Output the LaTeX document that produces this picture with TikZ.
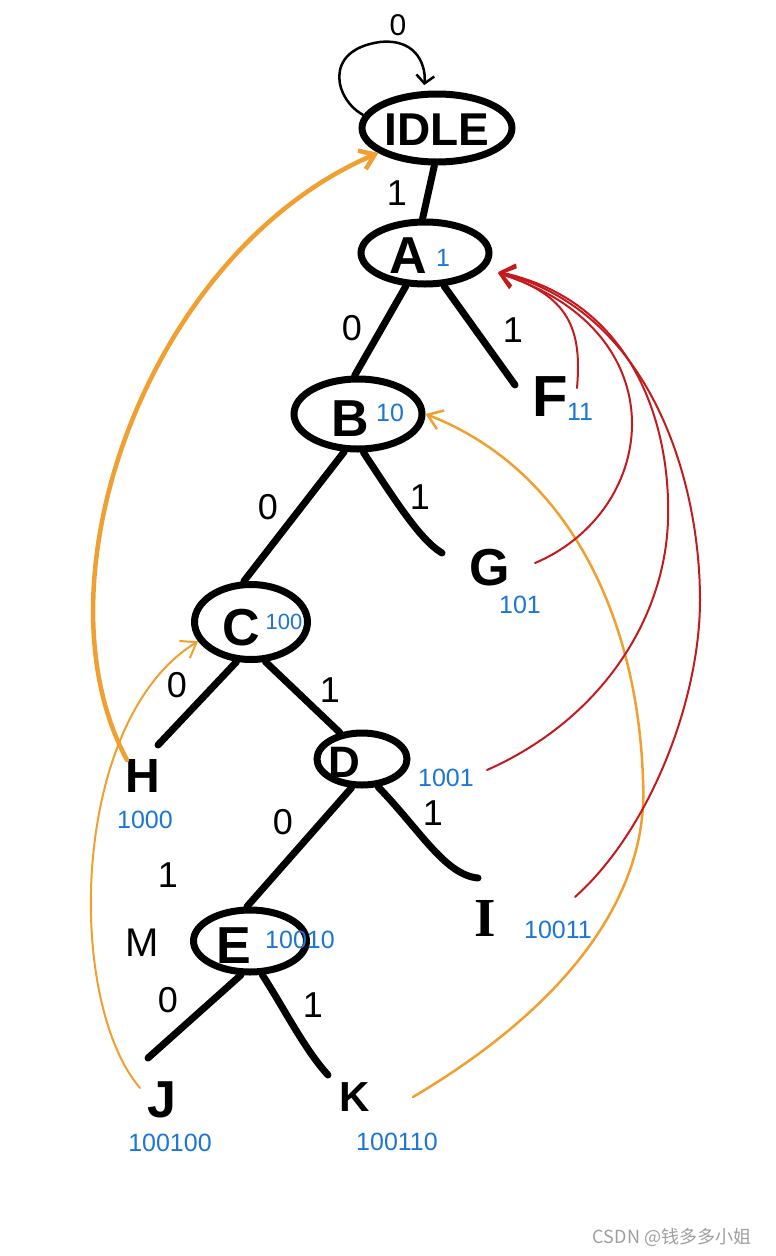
\documentclass[tikz,border=0pt]{standalone}
\usepackage{fontspec}
\setmainfont{Liberation Sans}
\newfontfamily\serifb{Liberation Serif}
\newfontfamily\cjkfont{Noto Sans CJK SC}
\usetikzlibrary{shapes.geometric,arrows.meta}
\definecolor{penblue}{HTML}{1C76D6}
\definecolor{penorange}{HTML}{F0A030}
\definecolor{penred}{HTML}{C41A1E}
\begin{document}
\begin{tikzpicture}[x=1pt,y=-1pt,
  state/.style={ellipse, draw, line width=7pt, inner sep=0pt},
  edge/.style={line width=7pt, line cap=round},
  letter/.style={font=\fontsize{52}{52}\selectfont\bfseries, inner sep=0pt},
  bin/.style={text=penblue, font=\fontsize{25}{25}\selectfont, inner sep=0pt},
  elabel/.style={font=\fontsize{36}{36}\selectfont, inner sep=0pt},
  redarrow/.style={draw=penred, line width=2pt, line cap=round,
     -{Straight Barb[length=14pt,width=22pt]}},
  orangearrow/.style={draw=penorange, line cap=round,
     -{Straight Barb[length=14pt,width=20pt]}}
]
\fill[white] (0,0) rectangle (776,1256);
\useasboundingbox (0,0) rectangle (776,1256);

% state ellipses
\node[state, minimum width=150pt, minimum height=68pt] (IDLE) at (437,128) {};
\node[state, minimum width=128pt, minimum height=62pt] (A) at (425,253) {};
\node[state, minimum width=128pt, minimum height=70pt] (B) at (358,414) {};
\node[state, minimum width=113pt, minimum height=75pt] (C) at (251,622) {};
\node[state, minimum width=90pt, minimum height=52pt] (D) at (362,759) {};
\node[state, minimum width=113pt, minimum height=62pt] (E) at (250,941) {};

% texts in states
\node[letter, font=\fontsize{46}{46}\selectfont\bfseries] (tIDLE) at (437,130) {IDLE};
\node[letter] (tA) at (408,256) {A};
\node[letter] (tB) at (350,419) {B};
\node[letter] (tC) at (241,628) {C};
\node[letter, font=\fontsize{44}{44}\selectfont\bfseries] (tD) at (344,762) {D};
\node[letter] (tE) at (234,946) {E};

% leaf states
\node[letter, font=\fontsize{58}{58}\selectfont\bfseries] (F) at (550,397) {F};
\node[letter] (G) at (490,568) {G};
\node[letter, font=\fontsize{48}{48}\selectfont\bfseries] (H) at (143,776) {H};
\node[letter, font=\fontsize{55}{55}\serifb\bfseries] (I) at (485,918) {I};
\node[letter, font=\fontsize{40}{40}\selectfont] (M) at (142,943) {M};
\node[letter] (J) at (162,1100) {J};
\node[letter, font=\fontsize{42}{42}\selectfont\bfseries] (K) at (355,1097) {K};

% binary codes
\node[bin] (bA) at (443,258) {1};
\node[bin] (bF) at (580,412) {11};
\node[bin] (bB) at (390,413) {10};
\node[bin] (bG) at (520,605) {101};
\node[bin, font=\fontsize{22}{22}\selectfont] (bC) at (284,622) {100};
\node[bin] (bH) at (145,820) {1000};
\node[bin] (bD) at (446,778) {1001};
\node[bin] (bI) at (558,930) {10011};
\node[bin] (bE) at (300,940) {10010};
\node[bin] (bJ) at (170,1143) {100100};
\node[bin] (bK) at (397,1142) {100110};

% edge end points at leaves
\coordinate (Fin) at (515,385);
\coordinate (Gin) at (442,553);
\coordinate (Hin) at (158,745);
\coordinate (Iin) at (478,878);
\coordinate (Jin) at (148,1058);
\coordinate (Kin) at (328,1075);
\coordinate (Hout) at (127,760);
\coordinate (Jout) at (140,1088);
\coordinate (Kout) at (413,1097);
\coordinate (Fout) at (577,388);
\coordinate (Gout) at (535,563);
\coordinate (Dout) at (487,770);
\coordinate (Iout) at (575,897);

% tree edges
\draw[edge] (IDLE.266) -- (A.94);
\draw[edge] (A.240) -- (B.95);
\draw[edge] (A.300) -- (Fin);
\draw[edge] (B.250) -- (C.100);
\draw[edge] (B.278) .. controls (395,500) and (420,540) .. (Gin);
\draw[edge] (C.250) -- (Hin);
\draw[edge] (C.290) -- (D.130);
\draw[edge] (D.250) -- (E.95);
\draw[edge] (D.300) .. controls (420,830) and (445,875) .. (Iin);
\draw[edge] (E.255) -- (Jin);
\draw[edge] (E.290) .. controls (285,1010) and (305,1050) .. (Kin);

% self loop
\draw[line width=2.5pt, -{Straight Barb[length=8pt,width=18pt]}, shorten >=6pt]
  (IDLE.170) .. controls (335,100) and (322,50) .. (380,42)
  .. controls (420,38) and (426,70) .. (IDLE.110);

% edge labels
\node[elabel, font=\fontsize{30}{30}\selectfont] (l0) at (398,25) {0};
\node[elabel] (l1) at (397,193) {1};
\node[elabel] (l2) at (352,328) {0};
\node[elabel] (l3) at (513,330) {1};
\node[elabel] (l4) at (268,507) {0};
\node[elabel] (l5) at (420,497) {1};
\node[elabel] (l6) at (177,685) {0};
\node[elabel] (l7) at (330,690) {1};
\node[elabel] (l8) at (283,822) {0};
\node[elabel] (l9) at (433,813) {1};
\node[elabel] (l10) at (168,875) {1};
\node[elabel] (l11) at (168,1000) {0};
\node[elabel] (l12) at (313,1005) {1};

% orange return arrows
\draw[orangearrow, line width=4.5pt] (Hout) .. controls (30,580) and (150,250) .. (IDLE);
\draw[orangearrow, line width=2pt] (Jout) .. controls (65,1000) and (70,720) .. (C.200);
\draw[orangearrow, line width=2.5pt] (Kout) .. controls (560,1010) and (650,900) .. (643,780)
   .. controls (638,620) and (570,470) .. (B.east);

% red return arrows
\draw[redarrow, shorten >=14pt] (Fout) .. controls (582,330) and (570,295) .. (A.-15);
\draw[redarrow, shorten >=14pt] (Gout) .. controls (660,510) and (680,330) .. (A.-15);
\draw[redarrow, shorten >=14pt] (Dout) .. controls (600,720) and (665,620) .. (668,520)
   .. controls (671,420) and (630,300) .. (A.-15);
\draw[redarrow, shorten >=14pt] (Iout) .. controls (650,830) and (700,700) .. (700,600)
   .. controls (700,480) and (650,310) .. (A.-15);

% watermark
\node[text=gray!75, font=\cjkfont\fontsize{18}{18}\selectfont, inner sep=0pt] (wm) at (672,1237) {CSDN @钱多多小姐};
\end{tikzpicture}
\end{document}
